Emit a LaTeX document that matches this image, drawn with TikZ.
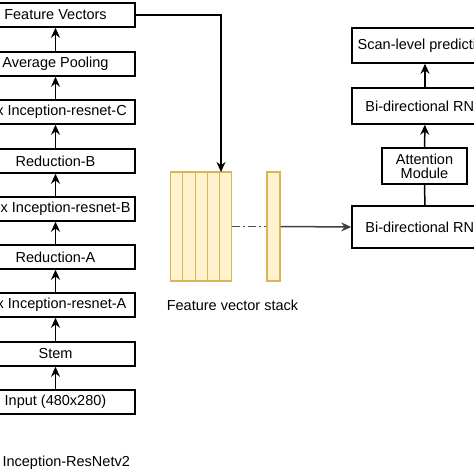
\documentclass[tikz,border=0pt]{standalone}
\usepackage{fontspec}
\setmainfont{Liberation Sans}
\usetikzlibrary{arrows.meta}
\definecolor{stackfill}{HTML}{FFF2CC}
\definecolor{stackline}{HTML}{D6B656}
\tikzset{
  block/.style={draw, line width=1.5pt, minimum width=159pt, minimum height=24pt, inner sep=1pt, font=\fontsize{14.5}{16}\selectfont},
  rblock/.style={draw, line width=1.5pt, minimum width=146pt, inner sep=1pt, font=\fontsize{14.5}{16}\selectfont, align=center},
  bar/.style={draw=stackline, fill=stackfill, line width=1.1pt, minimum width=12.2pt, minimum height=109pt, inner sep=0pt},
  arr/.style={-{Stealth[length=10pt,width=9pt]}, line width=1.5pt}
}
\begin{document}
\begin{tikzpicture}[x=1pt,y=-1pt]
    \useasboundingbox (0,0) rectangle (474,474);
    \clip (0,0) rectangle (474,474);

    \node[block] (fv) at (55.5,15) {Feature Vectors};
    \node[block] (pool) at (55.5,64) {Average Pooling};
    \node[block] (resc) at (55.5,112) {5 x Inception-resnet-C};
    \node[block] (redb) at (55.5,161) {Reduction-B};
    \node[block] (resb) at (55.5,209) {10 x Inception-resnet-B};
    \node[block] (reda) at (55.5,257) {Reduction-A};
    \node[block] (resa) at (55.5,305) {5 x Inception-resnet-A};
    \node[block] (stem) at (55.5,354) {Stem};
    \node[block] (input) at (55.5,402) {Input (480x280)};
    \node[anchor=west, font=\fontsize{14.5}{16}\selectfont] (cap) at (-1,463) {Inception-ResNetv2};

    \draw[arr] (input) -- (stem);
    \draw[arr] (stem) -- (resa);
    \draw[arr] (resa) -- (reda);
    \draw[arr] (reda) -- (resb);
    \draw[arr] (resb) -- (redb);
    \draw[arr] (redb) -- (resc);
    \draw[arr] (resc) -- (pool);
    \draw[arr] (pool) -- (fv);

    % feature vector stack
    \foreach \i in {1,...,5}
        \node[bar] (col\i) at (164.6+12.2*\i,226.5) {};
    \node[bar, minimum width=13pt] (last) at (273.5,226.5) {};
    \node[font=\fontsize{14.5}{16}\selectfont] (stacklabel) at (232.5,305) {Feature vector stack};
    \coordinate (drop) at (221,172);

    \draw[arr] (fv.east) -| (drop);
    \draw[line width=1.5pt, dash pattern=on 8pt off 3pt on 2pt off 3pt, black!70] (col5.east) -- (last.west);

    % recurrent part
    \node[rblock, minimum height=42pt] (rnnlow) at (425,227) {Bi-directional RNN};
    \node[rblock, minimum width=85pt, minimum height=36pt, inner sep=0pt] (att) at (424.5,166) {Attention\\[-2pt]Module};
    \node[rblock, minimum height=36pt] (rnnup) at (425,106) {Bi-directional RNN};
    \node[rblock, minimum height=35pt] (pred) at (425,45.5) {Scan-level prediction};

    \draw[arr, black!75] (last.east) -- (rnnlow.west);
    \draw[line width=1.5pt] (rnnlow) -- (att);
    \draw[arr] (att) -- (rnnup);
    \draw[arr] (rnnup) -- (pred);
\end{tikzpicture}
\end{document}
